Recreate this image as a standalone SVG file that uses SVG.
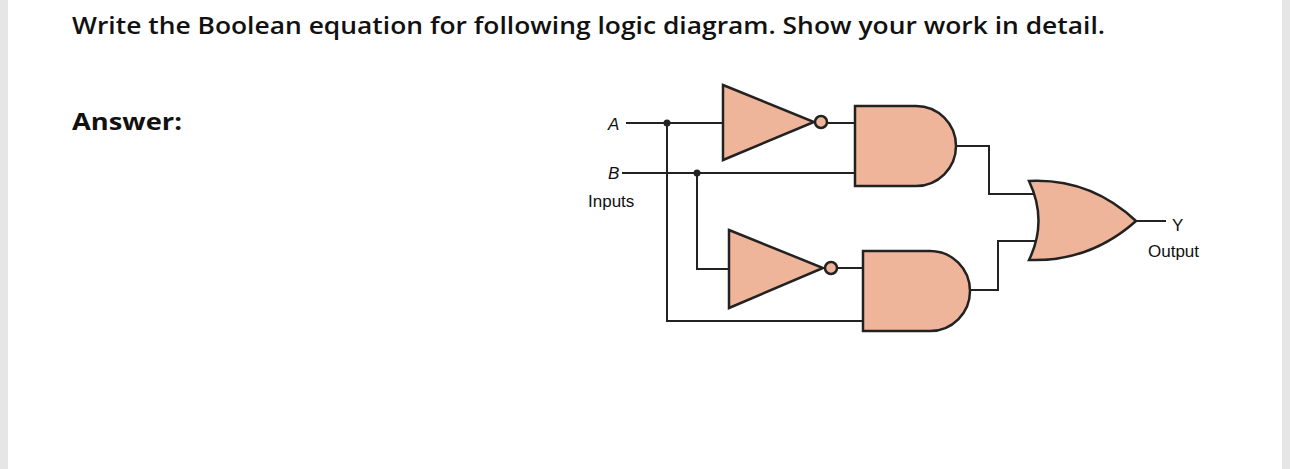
<svg xmlns="http://www.w3.org/2000/svg" width="1290" height="469" viewBox="0 0 1290 469">
<style>
.g{fill:#efb59a;stroke:#222;stroke-width:2.5}
.w{fill:none;stroke:#222;stroke-width:2}
.t{font-family:"Open Sans","Liberation Sans",sans-serif;fill:#111}
.s{font-family:"Liberation Sans",Arial,sans-serif;font-size:17px;fill:#111}
</style>
<rect width="1290" height="469" fill="#fff"/>
<rect x="0" y="0" width="8" height="469" fill="#e6e6e6"/>
<rect x="1282" y="0" width="8" height="469" fill="#e6e6e6"/>
<text class="t" x="72" y="34" font-size="24" font-weight="600" textLength="1033" lengthAdjust="spacingAndGlyphs">Write the Boolean equation for following logic diagram. Show your work in detail.</text>
<text class="t" x="72" y="130" font-size="24" font-weight="700" textLength="110" lengthAdjust="spacingAndGlyphs">Answer:</text>
<g id="labels">
<text class="s" x="608" y="130" font-style="italic">A</text>
<text class="s" x="608" y="179" font-style="italic">B</text>
<text class="s" x="588" y="207">Inputs</text>
<text class="s" x="1172" y="231">Y</text>
<text class="s" x="1148" y="257">Output</text>
</g>
<g id="connectors">
<path class="w" d="M626 123H723M667 123V321H863"/>
<path class="w" d="M622 173H855M697 173V269H729"/>
<path class="w" d="M828 123H855M838 268H863"/>
<path class="w" d="M956 146H989V194H1035M971 290H998V241H1035"/>
<path class="w" d="M1136 221H1166"/>
<circle cx="667" cy="123" r="3.5" fill="#222"/>
<circle cx="697" cy="173" r="3.5" fill="#222"/>
</g>
<g id="not1"><path class="g" d="M723 85L814 122L723 160Z"/><circle class="g" cx="821" cy="122" r="6" fill="#fff" stroke-width="2"/></g>
<g id="and1"><path class="g" d="M855 106H916A40 40 0 0 1 916 186H855Z"/></g>
<g id="not2"><path class="g" d="M729 230L823 268L729 308Z"/><circle class="g" cx="831" cy="268" r="6" fill="#fff" stroke-width="2"/></g>
<g id="and2"><path class="g" d="M863 251H930A40 40 0 0 1 930 331H863Z"/></g>
<g id="or1"><path class="g" d="M1029 181Q1090 178 1136 221Q1090 262 1029 260Q1048 221 1029 181Z"/></g>
</svg>
